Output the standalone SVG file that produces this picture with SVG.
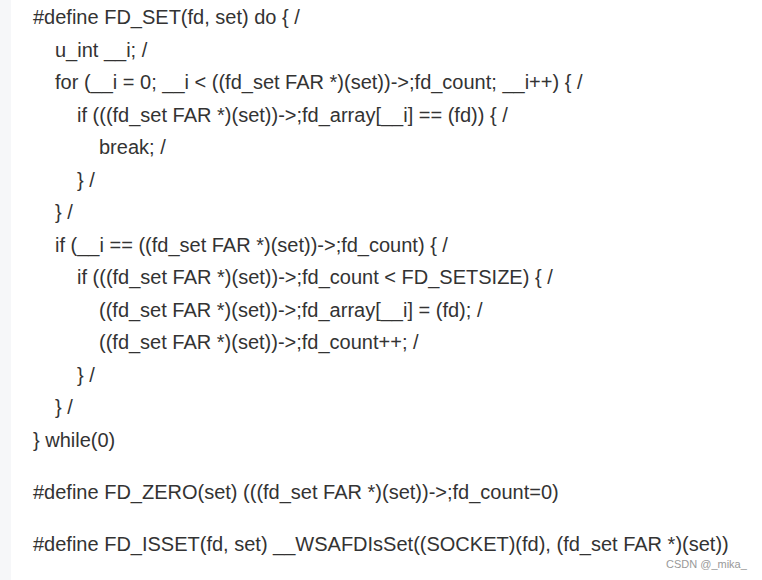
<svg xmlns="http://www.w3.org/2000/svg" width="762" height="580" viewBox="0 0 762 580">
<style>
text{font-family:"Liberation Sans",Arial,sans-serif;font-size:20px;fill:#333}
.w{font-size:11px;fill:#999}
</style>
<rect width="762" height="580" fill="#fff"/>
<rect width="11" height="580" fill="#f6f7f9"/>
<text x="33" y="24">#define FD_SET(fd, set) do { /</text>
<text x="55" y="56.5">u_int __i; /</text>
<text x="55" y="89">for (__i = 0; __i &lt; ((fd_set FAR *)(set))-&gt;;fd_count; __i++) { /</text>
<text x="77" y="121.5">if (((fd_set FAR *)(set))-&gt;;fd_array[__i] == (fd)) { /</text>
<text x="99" y="154">break; /</text>
<text x="77" y="186.5">} /</text>
<text x="55" y="219">} /</text>
<text x="55" y="251.5">if (__i == ((fd_set FAR *)(set))-&gt;;fd_count) { /</text>
<text x="77" y="284">if (((fd_set FAR *)(set))-&gt;;fd_count &lt; FD_SETSIZE) { /</text>
<text x="99" y="316.5">((fd_set FAR *)(set))-&gt;;fd_array[__i] = (fd); /</text>
<text x="99" y="349">((fd_set FAR *)(set))-&gt;;fd_count++; /</text>
<text x="77" y="381.5">} /</text>
<text x="55" y="414">} /</text>
<text x="33" y="446.5">} while(0)</text>
<text x="33" y="499">#define FD_ZERO(set) (((fd_set FAR *)(set))-&gt;;fd_count=0)</text>
<text x="33" y="551">#define FD_ISSET(fd, set) __WSAFDIsSet((SOCKET)(fd), (fd_set FAR *)(set))</text>
<text class="w" x="666" y="568">CSDN @_mika_</text>
</svg>
